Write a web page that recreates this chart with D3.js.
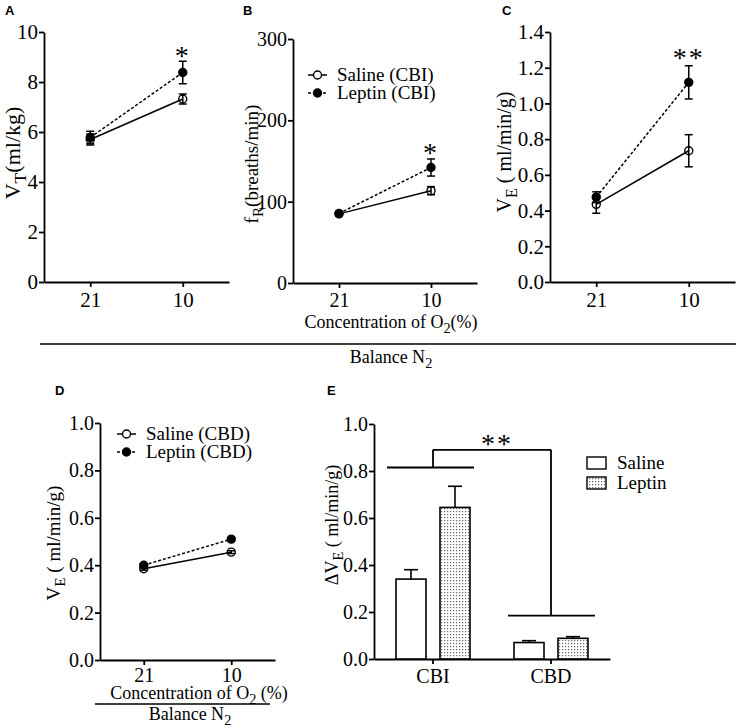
<!DOCTYPE html>
<html>
<head>
<meta charset="utf-8">
<script src="https://cdn.jsdelivr.net/npm/d3@7"></script>
<style>
  body { margin: 0; background: #fff; }
  svg { display: block; }
</style>
</head>
<body>
<svg id="svg"></svg>
<script>
const o2Levels = ['21', '10'];

// A - tidal volume (ml/kg)
const vtSaline = [5.7, 7.32];
const vtSalineErr = [0.22, 0.2];
const vtLeptin = [5.78, 8.38];
const vtLeptinErr = [0.25, 0.45];
const vtTicks = [0, 2, 4, 6, 8, 10];

// B - breathing frequency (breaths/min)
const frSaline = [85, 113.5];
const frSalineErr = [2.5, 5];
const frLeptin = [85.5, 142];
const frLeptinErr = [2.5, 10.5];
const frTicks = [0, 100, 200, 300];

// C - minute ventilation, CBI
const veSaline = [0.435, 0.735];
const veSalineErr = [0.05, 0.09];
const veLeptin = [0.475, 1.118];
const veLeptinErr = [0.03, 0.093];
const veTicks = [0, 0.2, 0.4, 0.6, 0.8, 1.0, 1.2, 1.4];

// D - minute ventilation, CBD
const cbdSaline = [0.385, 0.455];
const cbdSalineErr = [0.006, 0.006];
const cbdLeptin = [0.40, 0.51];
const cbdLeptinErr = [0.006, 0.006];
const cbdTicks = [0, 0.2, 0.4, 0.6, 0.8, 1.0];

// E - change in VE
const groups = ['CBI', 'CBD'];
const treatments = ['Saline', 'Leptin'];
const deltaSaline = [0.34, 0.07];
const deltaSalineErr = [0.04, 0.008];
const deltaLeptin = [0.645, 0.088];
const deltaLeptinErr = [0.09, 0.007];
const deltaTicks = [0, 0.2, 0.4, 0.6, 0.8, 1.0];

const serif = '"Liberation Serif", "Times New Roman", serif';
const sans = '"Liberation Sans", Arial, sans-serif';

const svg = d3.select('#svg').attr('width', 737).attr('height', 727);

// dotted fill for the leptin bars
const pat = svg.append('defs').append('pattern')
  .attr('id', 'dots')
  .attr('patternUnits', 'userSpaceOnUse')
  .attr('width', 3).attr('height', 3);
pat.append('rect').attr('width', 3).attr('height', 3).attr('fill', '#fff');
pat.append('rect').attr('x', 1).attr('y', 1).attr('width', 1.2).attr('height', 1.2).attr('fill', '#666');

function styleAxis(sel, size) {
  sel.attr('font-family', serif).attr('font-size', size);
  sel.select('.domain').attr('stroke', '#000').attr('stroke-width', 1.8);
  sel.selectAll('.tick line').attr('stroke', '#000').attr('stroke-width', 1.8);
  sel.selectAll('.tick text').attr('fill', '#000');
}

// text with subscripts, parts = [[text, isSub], ...]
function richText(sel, parts, size) {
  let down = false;
  parts.forEach(([t, sub]) => {
    const ts = sel.append('tspan').text(t);
    if (sub) {
      ts.attr('font-size', size * 0.8);
      if (!down) { ts.attr('dy', size * 0.28); down = true; }
    } else if (down) {
      ts.attr('dy', -size * 0.28);
      down = false;
    }
  });
}

function yTitle(x, y, parts, size) {
  const t = svg.append('text')
    .attr('transform', `translate(${x},${y}) rotate(-90)`)
    .attr('text-anchor', 'middle')
    .attr('dy', '0.35em')
    .attr('font-family', serif)
    .attr('font-size', size);
  richText(t, parts, size);
}

function plainTitle(x, y, parts, size) {
  const t = svg.append('text')
    .attr('x', x).attr('y', y)
    .attr('text-anchor', 'middle')
    .attr('dy', '0.35em')
    .attr('font-family', serif)
    .attr('font-size', size);
  richText(t, parts, size);
}

function panelLabel(x, y, s) {
  svg.append('text').attr('x', x).attr('y', y)
    .attr('font-family', sans).attr('font-weight', 'bold')
    .attr('font-size', 13).text(s);
}

function star(x, y, s) {
  // y = visual centre of the asterisk
  svg.append('text').attr('x', x).attr('y', y + 15)
    .attr('text-anchor', 'middle')
    .attr('font-family', serif).attr('font-size', 28)
    .attr('letter-spacing', 2)
    .text(s);
}

function linePanel(cfg) {
  const x = d3.scalePoint().domain(o2Levels).range([cfg.x0, cfg.x1]).padding(0.5);
  const y = d3.scaleLinear().domain([0, cfg.yMax]).range([cfg.yBottom, cfg.yTop]);
  const g = svg.append('g');

  g.append('g')
    .attr('transform', `translate(${cfg.x0},0)`)
    .call(d3.axisLeft(y).tickValues(cfg.ticks).tickFormat(cfg.fmt)
      .tickSize(5).tickSizeOuter(0).tickPadding(1))
    .call(styleAxis, cfg.tickFont);

  g.append('g')
    .attr('transform', `translate(0,${cfg.yBottom})`)
    .call(d3.axisBottom(x).tickSize(5).tickSizeOuter(0).tickPadding(cfg.xPad))
    .call(styleAxis, cfg.tickFont);

  const line = d3.line().x((d, i) => x(o2Levels[i])).y(d => y(d));

  cfg.series.forEach(s => {
    g.append('path').datum(s.vals)
      .attr('d', line)
      .attr('fill', 'none')
      .attr('stroke', '#000')
      .attr('stroke-width', 1.5)
      .attr('stroke-dasharray', s.filled ? '3,2' : null);
  });

  cfg.series.forEach(s => {
    s.vals.forEach((v, i) => {
      const cx = x(o2Levels[i]);
      const top = y(v + s.errs[i]);
      const bot = y(v - s.errs[i]);
      g.append('line').attr('x1', cx).attr('x2', cx).attr('y1', top).attr('y2', bot)
        .attr('stroke', '#000').attr('stroke-width', 1.5);
      [top, bot].forEach(yy => {
        g.append('line').attr('x1', cx - 4).attr('x2', cx + 4).attr('y1', yy).attr('y2', yy)
          .attr('stroke', '#000').attr('stroke-width', 1.5);
      });
    });
  });

  // filled markers first, open ones over them
  cfg.series.slice().reverse().forEach(s => {
    g.selectAll(null).data(s.vals).enter().append('circle')
      .attr('cx', (d, i) => x(o2Levels[i]))
      .attr('cy', d => y(d))
      .attr('r', 4)
      .attr('fill', s.filled ? '#000' : 'none')
      .attr('stroke', '#000')
      .attr('stroke-width', 1.4);
  });

  if (cfg.legend) {
    const lg = cfg.legend;
    cfg.series.forEach((s, k) => {
      const ly = lg.y + k * 18;
      g.append('line').attr('x1', lg.x).attr('x2', lg.x + 19).attr('y1', ly).attr('y2', ly)
        .attr('stroke', '#000').attr('stroke-width', 1.5)
        .attr('stroke-dasharray', s.filled ? '3,2' : null);
      g.append('circle').attr('cx', lg.x + 9.5).attr('cy', ly).attr('r', 4)
        .attr('fill', s.filled ? '#000' : '#fff').attr('stroke', '#000').attr('stroke-width', 1.4);
      g.append('text').attr('x', lg.x + 29).attr('y', ly).attr('dy', '0.32em')
        .attr('font-family', serif).attr('font-size', 19).text(lg.labels[k]);
    });
  }

  if (cfg.star) star(x('10'), cfg.star.y, cfg.star.text);
  return { x, y };
}

// ---------- A ----------
panelLabel(5, 15, 'A');
linePanel({
  x0: 44, x1: 229, yTop: 32, yBottom: 282, yMax: 10,
  ticks: vtTicks, fmt: d3.format('d'), tickFont: 21, xPad: 5,
  series: [
    { vals: vtSaline, errs: vtSalineErr, filled: false },
    { vals: vtLeptin, errs: vtLeptinErr, filled: true }
  ],
  star: { y: 50, text: '*' }
});
yTitle(12, 153, [['V'], ['T', true], ['(ml/kg)']], 22);

// ---------- B ----------
panelLabel(243, 15, 'B');
linePanel({
  x0: 293, x1: 477, yTop: 39, yBottom: 283, yMax: 300,
  ticks: frTicks, fmt: d3.format('d'), tickFont: 20, xPad: 5,
  series: [
    { vals: frSaline, errs: frSalineErr, filled: false },
    { vals: frLeptin, errs: frLeptinErr, filled: true }
  ],
  legend: { x: 308, y: 75, labels: ['Saline (CBI)', 'Leptin (CBI)'] },
  star: { y: 147, text: '*' }
});
yTitle(251, 164, [['f'], ['R', true], ['(breaths/min)']], 19);

// ---------- C ----------
panelLabel(502, 15, 'C');
linePanel({
  x0: 550, x1: 735, yTop: 32, yBottom: 282, yMax: 1.4,
  ticks: veTicks, fmt: d3.format('.1f'), tickFont: 21, xPad: 5,
  series: [
    { vals: veSaline, errs: veSalineErr, filled: false },
    { vals: veLeptin, errs: veLeptinErr, filled: true }
  ],
  star: { y: 52, text: '**' }
});
yTitle(504, 152, [['V'], ['E', true], [' ( ml/min/g)']], 20);

// shared x title for the top row
plainTitle(391, 322, [['Concentration of O'], ['2', true], ['(%)']], 18);
svg.append('line').attr('x1', 40).attr('x2', 736).attr('y1', 344).attr('y2', 344)
  .attr('stroke', '#000').attr('stroke-width', 1.6);
plainTitle(391, 357, [['Balance N'], ['2', true]], 18);

// ---------- D ----------
panelLabel(55, 395, 'D');
linePanel({
  x0: 100, x1: 275, yTop: 423, yBottom: 660, yMax: 1.0,
  ticks: cbdTicks, fmt: d3.format('.1f'), tickFont: 20, xPad: 3,
  series: [
    { vals: cbdSaline, errs: cbdSalineErr, filled: false },
    { vals: cbdLeptin, errs: cbdLeptinErr, filled: true }
  ],
  legend: { x: 117, y: 434, labels: ['Saline (CBD)', 'Leptin (CBD)'] }
});
yTitle(53, 543, [['V'], ['E', true], [' ( ml/min/g)']], 19);
plainTitle(199, 693, [['Concentration of O'], ['2', true], [' (%)']], 18);
svg.append('line').attr('x1', 95).attr('x2', 270).attr('y1', 704).attr('y2', 704)
  .attr('stroke', '#000').attr('stroke-width', 1.6);
plainTitle(190, 714, [['Balance N'], ['2', true]], 18);

// ---------- E ----------
panelLabel(327, 395, 'E');
const xE = d3.scaleBand().domain(groups).range([374, 610]).paddingInner(0).paddingOuter(0);
const xSub = d3.scaleBand().domain(treatments).range([0, xE.bandwidth()])
  .paddingInner(0.318).paddingOuter(0.5);
const yE = d3.scaleLinear().domain([0, 1]).range([659, 424]);
const gE = svg.append('g');

gE.append('g').attr('transform', 'translate(374,0)')
  .call(d3.axisLeft(yE).tickValues(deltaTicks).tickFormat(d3.format('.1f'))
    .tickSize(5).tickSizeOuter(0).tickPadding(1))
  .call(styleAxis, 20);
gE.append('g').attr('transform', 'translate(0,659)')
  .call(d3.axisBottom(xE).tickSize(5).tickSizeOuter(0).tickPadding(5))
  .call(styleAxis, 20);

const barRows = [];
groups.forEach((grp, i) => {
  barRows.push({ grp, trt: 'Saline', v: deltaSaline[i], e: deltaSalineErr[i] });
  barRows.push({ grp, trt: 'Leptin', v: deltaLeptin[i], e: deltaLeptinErr[i] });
});

const bars = gE.selectAll('.bar').data(barRows).enter().append('g').attr('class', 'bar')
  .attr('transform', d => `translate(${xE(d.grp) + xSub(d.trt)},0)`);
bars.append('line')
  .attr('x1', xSub.bandwidth() / 2).attr('x2', xSub.bandwidth() / 2)
  .attr('y1', d => yE(d.v)).attr('y2', d => yE(d.v + d.e))
  .attr('stroke', '#000').attr('stroke-width', 1.6);
bars.append('line')
  .attr('x1', xSub.bandwidth() / 2 - 7).attr('x2', xSub.bandwidth() / 2 + 7)
  .attr('y1', d => yE(d.v + d.e)).attr('y2', d => yE(d.v + d.e))
  .attr('stroke', '#000').attr('stroke-width', 1.6);
bars.append('rect')
  .attr('width', xSub.bandwidth())
  .attr('y', d => yE(d.v))
  .attr('height', d => 659 - yE(d.v))
  .attr('fill', d => d.trt === 'Leptin' ? 'url(#dots)' : '#fff')
  .attr('stroke', '#000').attr('stroke-width', 1.6);

// significance bracket between groups
const cI = xE('CBI') + xE.bandwidth() / 2;
const cD = xE('CBD') + xE.bandwidth() / 2;
const bLines = [
  [cI - 46, 0.815, cI + 41, 0.815],
  [cD - 43, 0.185, cD + 44, 0.185],
  [cI, 0.89, cD, 0.89],
  [cI, 0.89, cI, 0.815],
  [cD, 0.89, cD, 0.185]
];
bLines.forEach(([a, b, c, d]) => {
  gE.append('line').attr('x1', a).attr('x2', c).attr('y1', yE(b)).attr('y2', yE(d))
    .attr('stroke', '#000').attr('stroke-width', 1.8);
});
star((cI + cD) / 2 + 5, 438, '**');

// legend
treatments.forEach((t, k) => {
  const ly = 457 + k * 20;
  gE.append('rect').attr('x', 587).attr('y', ly).attr('width', 19).attr('height', 12)
    .attr('fill', t === 'Leptin' ? 'url(#dots)' : '#fff')
    .attr('stroke', '#000').attr('stroke-width', 1.4);
  gE.append('text').attr('x', 617).attr('y', ly + 6).attr('dy', '0.32em')
    .attr('font-family', serif).attr('font-size', 19).text(t);
});
yTitle(332, 525, [['\u0394V'], ['E', true], [' ( ml/min/g)']], 18);
</script>
</body>
</html>
